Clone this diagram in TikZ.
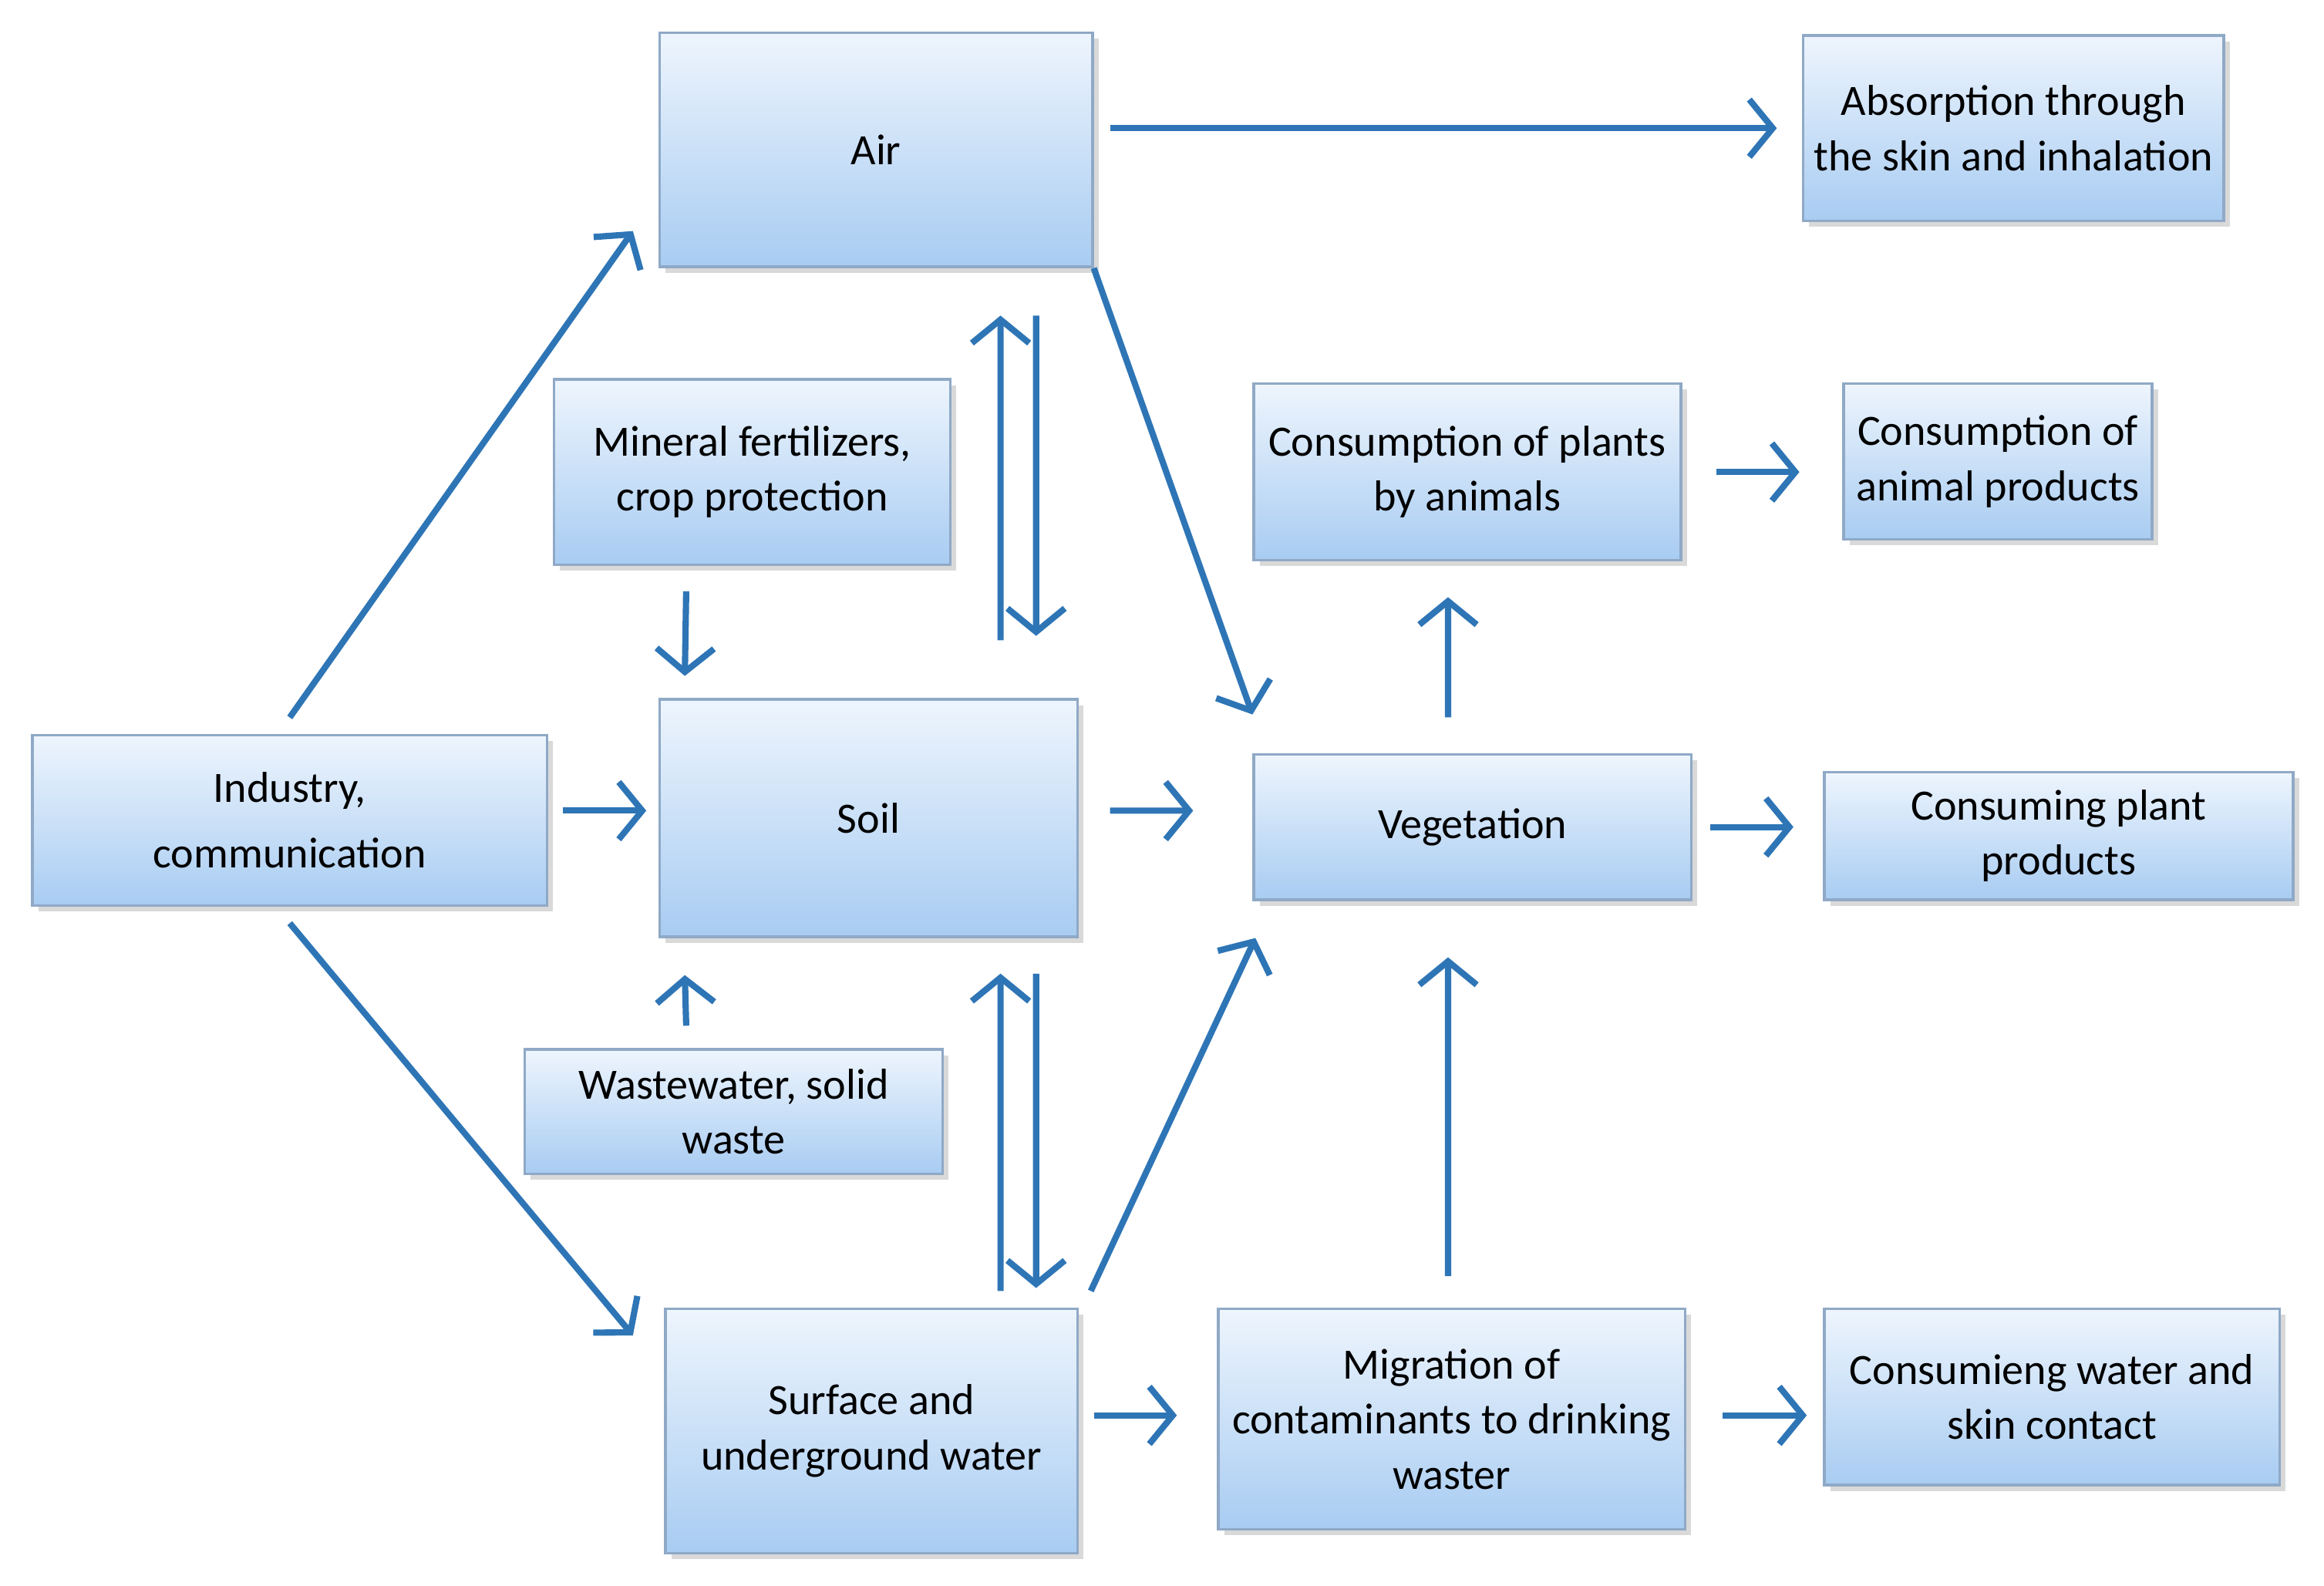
\documentclass[tikz,border=0pt]{standalone}
\usepackage{fontspec}
\setmainfont{Carlito}
\usetikzlibrary{arrows.meta,calc,shadows}
\definecolor{arrc}{HTML}{2E75B6}
\definecolor{boxtop}{HTML}{EEF5FD}
\definecolor{boxbot}{HTML}{A8CCF2}
\definecolor{boxdraw}{HTML}{8FA9C6}
\tikzset{
  box/.style={draw=boxdraw, line width=0.5pt, top color=boxtop, bottom color=boxbot,
    align=center, font=\fontsize{8.3}{10.6}\selectfont, inner sep=2pt,
    drop shadow={opacity=.3, shadow xshift=.04cm, shadow yshift=-.04cm}},
  arr/.style={draw=arrc, line width=1.2pt, -{Straight Barb[length=4.5pt,width=11pt,line width=1.2pt]}}
}
\begin{document}
\begin{tikzpicture}[x=0.01cm,y=-0.01cm]
\useasboundingbox (0,0) rectangle (1568,1070);
\node[box,minimum width=2.92cm,minimum height=1.58cm] (air) at (591,101) {Air};
\node[box,minimum width=2.83cm,minimum height=1.25cm] (abs) at (1358.5,86.5) {Absorption through\\the skin and inhalation};
\node[box,minimum width=2.67cm,minimum height=1.25cm] (min) at (507.5,318.5) {Mineral fertilizers,\\crop protection};
\node[box,minimum width=2.88cm,minimum height=1.19cm] (anim) at (990,318.5) {Consumption of plants\\by animals};
\node[box,minimum width=2.08cm,minimum height=1.05cm] (aprod) at (1348,311.5) {Consumption of\\animal products};
\node[box,minimum width=3.47cm,minimum height=1.15cm,font=\fontsize{8.3}{12.5}\selectfont] (ind) at (195.5,553.5) {Industry,\\communication};
\node[box,minimum width=2.82cm,minimum height=1.60cm] (soil) at (586,552) {Soil};
\node[box,minimum width=2.95cm,minimum height=0.98cm] (veg) at (993.5,558) {Vegetation};
\node[box,minimum width=3.16cm,minimum height=0.86cm] (pprod) at (1389,564) {Consuming plant\\products};
\node[box,minimum width=2.82cm,minimum height=0.84cm] (waste) at (495,750) {Wastewater, solid\\waste};
\node[box,minimum width=2.78cm,minimum height=1.65cm] (surf) at (588,965.5) {Surface and\\underground water};
\node[box,minimum width=3.15cm,minimum height=1.49cm] (mig) at (979.5,957.5) {Migration of\\contaminants to drinking\\waster};
\node[box,minimum width=3.07cm,minimum height=1.19cm] (cons) at (1384.5,942.5) {Consumieng water and\\skin contact};

\draw[arr] ($(air.east|-abs.west)+(.11cm,0)$) -- ($(abs.west)+(-.17cm,0)$);
\draw[arr] ($(ind.north)+(0,.11cm)$) -- ($(air.south west)+(-.17cm,.25cm)$);
\draw[arr] (air.south east) -- ($(veg.north west)+(0,.26cm)$);
\draw[arr] ($(soil.north)+(.89cm,.39cm)$) -- ($(air.south)+(.84cm,-.32cm)$);
\draw[arr] ($(air.south)+(1.08cm,-.32cm)$) -- ($(soil.north)+(1.13cm,.42cm)$);
\draw[arr] ($(min.south)+(-.445cm,-.17cm)$) -- ($(soil.north west)+(.18cm,.15cm)$);
\draw[arr] ($(ind.east)+(.10cm,.065cm)$) -- ($(soil.west|-ind.east)+(-.08cm,.065cm)$);
\draw[arr] ($(soil.east)+(.21cm,.05cm)$) -- ($(veg.west)+(-.40cm,.11cm)$);
\draw[arr] ($(veg.north)+(-.165cm,.24cm)$) -- ($(anim.south)+(-.13cm,-.24cm)$);
\draw[arr] ($(anim.east)+(.23cm,0)$) -- ($(aprod.west|-anim.east)+(-.29cm,0)$);
\draw[arr] ($(veg.east)+(.12cm,0)$) -- ($(pprod.west|-veg.east)+(-.20cm,0)$);
\draw[arr] ($(waste.north)+(-.32cm,.15cm)$) -- ($(soil.south west)+(.18cm,-.25cm)$);
\draw[arr] ($(ind.south)+(0,-.11cm)$) -- ($(surf.north west)+(-.21cm,-.19cm)$);
\draw[arr] ($(surf.north)+(.87cm,.11cm)$) -- ($(soil.south)+(.89cm,-.24cm)$);
\draw[arr] ($(soil.south)+(1.13cm,-.24cm)$) -- ($(surf.north)+(1.11cm,.13cm)$);
\draw[arr] ($(surf.north east)+(.08cm,.11cm)$) -- ($(veg.south west)+(.02cm,-.25cm)$);
\draw[arr] ($(surf.east)+(.10cm,.105cm)$) -- ($(mig.west|-surf.east)+(-.27cm,.105cm)$);
\draw[arr] ($(mig.north)+(-.025cm,.21cm)$) -- ($(veg.south)+(-.165cm,-.38cm)$);
\draw[arr] ($(mig.east)+(.24cm,.025cm)$) -- ($(cons.west|-mig.east)+(-.11cm,.025cm)$);
\end{tikzpicture}
\end{document}
